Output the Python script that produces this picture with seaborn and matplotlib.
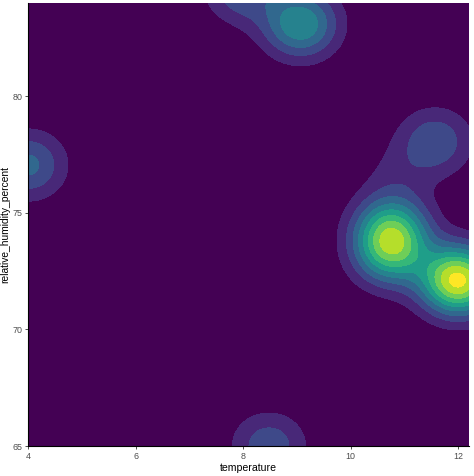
import numpy as np
import matplotlib
matplotlib.use("Agg")
import matplotlib.pyplot as plt
import seaborn as sns

temperature = [4.0, 8.48, 9.07, 8.0, 11.57, 10.85, 10.75, 10.75, 12.0]
humidity = [77.05, 65.0, 83.1, 84.6, 78.06, 76.6, 74.35, 73.25, 72.1]
weight = [1.0, 0.82, 1.5, 0.9, 0.85, 0.3, 1.55, 1.55, 2.84]

x_ticks = [4, 6, 8, 10, 12]
y_ticks = [65, 70, 75, 80]
bw_x, bw_y = 0.48, 1.0

sns.set_theme(style="ticks")
plt.rcParams["font.family"] = ["Liberation Sans", "DejaVu Sans"]

# 2d gaussian density on a grid over the panel
gx = np.linspace(4, 12.2, 300)
gy = np.linspace(65, 84, 300)
GX, GY = np.meshgrid(gx, gy)
dens = np.zeros_like(GX)
for xi, yi, w in zip(temperature, humidity, weight):
    dens += w * np.exp(-0.5 * ((GX - xi) / bw_x) ** 2 - 0.5 * ((GY - yi) / bw_y) ** 2)

step = dens.max() * 0.1067
levels = np.arange(11) * step
cmap = plt.get_cmap("viridis")
colors = [cmap(v) for v in np.linspace(0, 1, 10)]

fig = plt.figure(figsize=(4.74, 4.76), dpi=100)
ax = fig.add_axes([28 / 474, 30 / 476, 441 / 474, 443 / 476])
ax.set_facecolor(colors[0])
cs = ax.contourf(GX, GY, dens, levels=levels, colors=colors)
cs.set_edgecolor("face")
cs.set_linewidth(0.4)

ax.set_xlim(4, 12.2)
ax.set_ylim(65, 84)
ax.set_xticks(x_ticks)
ax.set_yticks(y_ticks)
ax.tick_params(labelsize=6.4, labelcolor="#4D4D4D", length=2.5, width=0.6,
               color="#333333", pad=1.5)
ax.set_xlabel("temperature", fontsize=7.6, labelpad=2, color="black")
ax.set_ylabel("relative_humidity_percent", fontsize=7.4, labelpad=1.5, color="black")
sns.despine(ax=ax)
for side in ["left", "bottom"]:
    ax.spines[side].set_color("black")
    ax.spines[side].set_linewidth(0.8)

fig.savefig("out.png", dpi=100)
